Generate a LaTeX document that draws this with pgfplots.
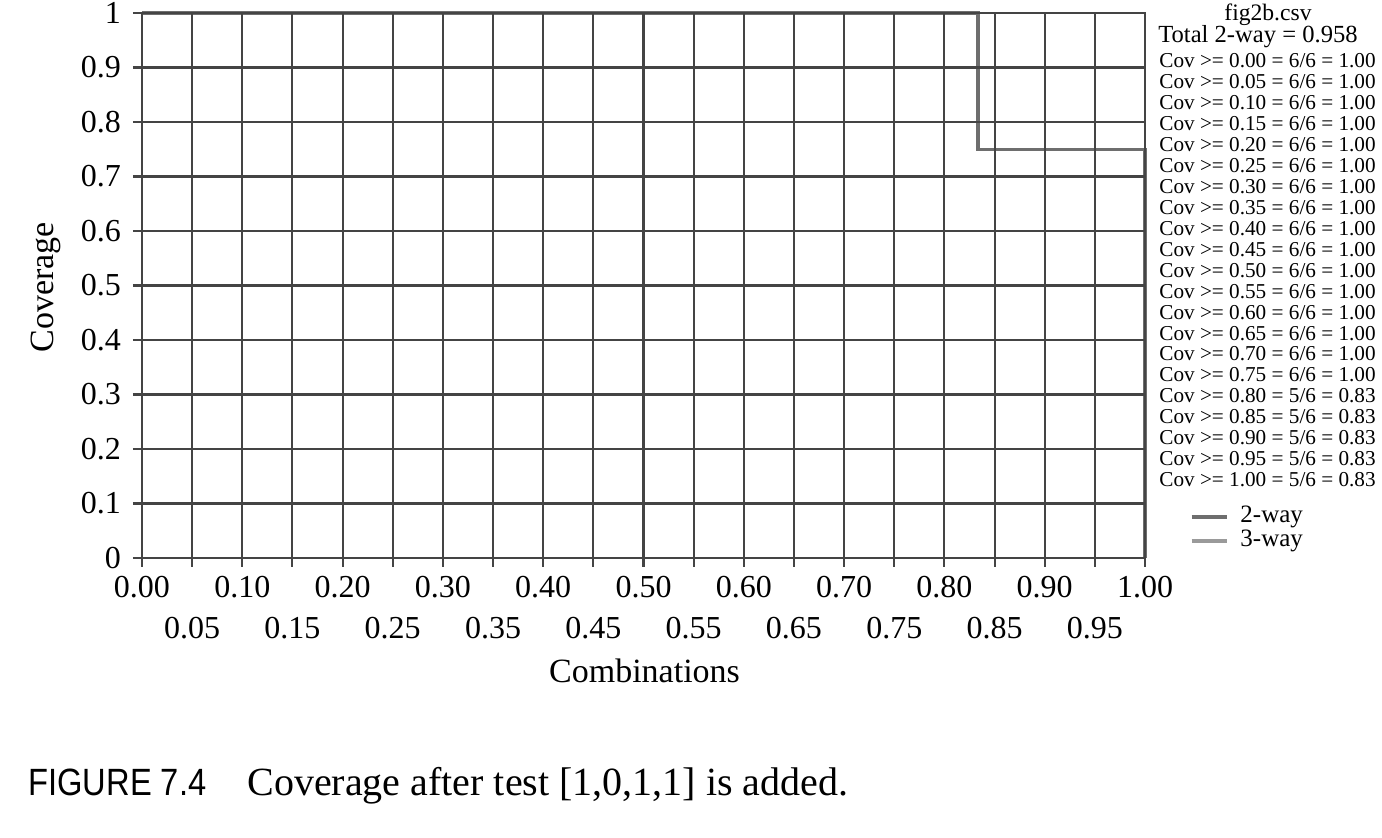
\documentclass[border=0pt]{standalone}
\usepackage{fontspec}
\setmainfont{Liberation Serif}
\newfontfamily\capfont[FakeStretch=0.86]{Liberation Sans}
\usepackage{pgfplots}
\pgfplotsset{compat=1.18}
\definecolor{gridc}{HTML}{444444}
\definecolor{ctwo}{HTML}{6E6E6E}
\definecolor{cthree}{HTML}{9A9A9A}
\begin{document}
\begin{tikzpicture}
\path[use as bounding box] (-71pt,-140pt) rectangle (620pt,279pt);
\begin{axis}[
  scale only axis, width=501.5pt, height=272.5pt,
  at={(0,0)}, anchor=south west,
  xmin=0, xmax=1, ymin=0, ymax=1,
  clip=false, axis on top,
  xtick={0,0.1,0.2,0.3,0.4,0.5,0.6,0.7,0.8,0.9,1},
  extra x ticks={0.05,0.15,0.25,0.35,0.45,0.55,0.65,0.75,0.85,0.95},
  extra x tick style={grid=major, major grid style={color=gridc, line width=1.05pt}, xticklabel style={yshift=-20.5pt}},
  ytick={0,0.1,0.2,0.3,0.4,0.5,0.6,0.7,0.8,0.9,1},
  grid=major,
  grid style={color=gridc, line width=1.05pt},
  major grid style={color=gridc, line width=1.05pt},
  axis line style={color=gridc, line width=1.05pt},
  tick style={color=gridc, line width=1.05pt},
  tick align=outside, major tick length=4.5pt,
  xtick pos=bottom, ytick pos=left,
  /pgf/number format/assume math mode=true,
  ticklabel style={font=\fontsize{16}{16}\selectfont},
  xticklabel style={yshift=-1pt, /pgf/number format/fixed, /pgf/number format/fixed zerofill, /pgf/number format/precision=2},
  yticklabel style={xshift=-2.5pt},
  xlabel={Combinations}, ylabel={Coverage},
  label style={font=\fontsize{17}{17}\selectfont},
  xlabel style={at={(axis description cs:0.501,-0.2073)}, anchor=center},
  ylabel style={at={(axis description cs:-0.0957,0.497)}, anchor=center},
  legend image code/.code={\draw[#1] (0pt,0pt) -- (17.5pt,0pt);},
  legend style={draw=none, fill=none, inner sep=0pt, outer sep=0pt,
    at={(1.0449,0.0972)}, anchor=north west,
    font=\fontsize{12.5}{12.5}\selectfont, column sep=6pt, row sep=0pt,
    nodes={inner sep=0pt, text height=8.5pt, text depth=3.5pt}},
  legend cell align=left,
]
\addplot[color=ctwo, line width=1.7pt] coordinates {(0,1) (0.8333,1) (0.8333,0.75) (1,0.75) (1,0)};
\addlegendentry{2-way}
\addlegendimage{color=cthree, line width=1.6pt}
\addlegendentry{3-way}
\end{axis}
\node[anchor=base, inner sep=0pt, font=\fontsize{11.8}{11.8}\selectfont] at (563pt,268.5pt) {fig2b.csv};
\node[anchor=base, inner sep=0pt, font=\fontsize{12.3}{12.3}\selectfont] at (558pt,257.7pt) {Total 2-way = 0.958};
\foreach \c/\n/\v [count=\i from 0] in {0.00/6/1.00,0.05/6/1.00,0.10/6/1.00,0.15/6/1.00,0.20/6/1.00,0.25/6/1.00,0.30/6/1.00,0.35/6/1.00,0.40/6/1.00,0.45/6/1.00,0.50/6/1.00,0.55/6/1.00,0.60/6/1.00,0.65/6/1.00,0.70/6/1.00,0.75/6/1.00,0.80/5/0.83,0.85/5/0.83,0.90/5/0.83,0.95/5/0.83,1.00/5/0.83}
  \node[anchor=base west, inner sep=0pt, font=\fontsize{10.6}{10.6}\selectfont] at (508.5pt,{245.15pt-\i*10.475pt}) {Cov >= \c\ = \n/6 = \v};
\node[anchor=base west, inner sep=0pt, font=\capfont\fontsize{19}{19}\selectfont] at (-57pt,-119pt) {FIGURE 7.4};
\node[anchor=base west, inner sep=0pt, font=\fontsize{20}{20}\selectfont] at (52.5pt,-119pt) {Coverage after test [1,0,1,1] is added.};
\end{tikzpicture}
\end{document}
